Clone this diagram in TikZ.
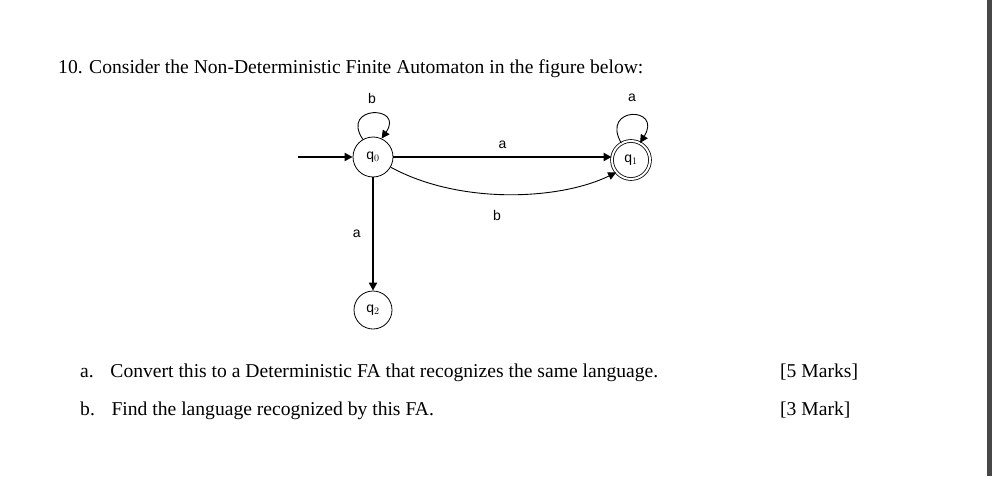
\documentclass[tikz,border=0pt]{standalone}
\usepackage{fontspec}
\setmainfont{Liberation Serif}
\newfontfamily\lblfont{Liberation Sans}
\usetikzlibrary{arrows.meta}
\begin{document}
\begin{tikzpicture}[x=1pt,y=-1pt,
  state/.style={circle,draw,line width=0.8pt,minimum size=40pt,inner sep=0pt,font=\lblfont\fontsize{14}{16}\selectfont},
  lbl/.style={font=\lblfont\fontsize{14}{16}\selectfont},
  txt/.style={anchor=base west,font=\fontsize{19.6}{24}\selectfont,inner sep=0pt},
  edge/.style={line width=2pt,-{Triangle[length=8pt,width=8pt]}},
  thin/.style={line width=0.9pt,-{Triangle[length=8pt,width=8pt]}}]
\useasboundingbox (0,0) rectangle (992,476);
\fill[white] (0,0) rectangle (992,476);
\fill[black!72] (987,0) rectangle (992,476);
\node[txt] (title) at (58,74) {10. Consider the Non-Deterministic Finite Automaton in the figure below:};
\node[state] (q0) at (373,157) {q$_0$};
\node[state,double,double distance=2pt,minimum size=38pt] (q1) at (631,160) {q$_1$};
\node[state,minimum size=38pt] (q2) at (373,310) {q$_2$};
\coordinate (start) at (298,157);
\draw[edge] (start) -- (q0);
\draw[edge] (q0) -- (q1.west |- q0) node[lbl,midway,above=4pt] (la) {a};
\draw[thin] (q0.-30) .. controls (460,205) and (560,200) .. (q1.-140) ;
\node[lbl] (lb) at (497,215) {b};
\draw[edge] (q0) -- (q2) node[lbl,pos=0.5,left=8pt] (la2) {a};
\draw[thin] (q0.120) .. controls (340,105) and (405,105) .. (q0.65);
\node[lbl] (l0) at (372,98) {b};
\draw[thin] (q1.120) .. controls (600,106) and (663,106) .. (q1.62);
\node[lbl] (l1) at (632,98) {a};
\node[txt] (ia) at (80,377) {a.\hspace{0.85em}Convert this to a Deterministic FA that recognizes the same language.};
\node[txt] (ib) at (80,415) {b.\hspace{0.85em}Find the language recognized by this FA.};
\node[txt] (ma) at (780,377) {[5 Marks]};
\node[txt] (mb) at (780,415) {[3 Mark]};
\end{tikzpicture}
\end{document}
